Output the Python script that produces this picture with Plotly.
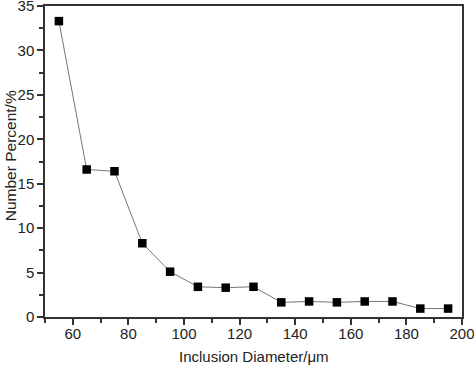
import plotly.graph_objects as go

diameters = [55, 65, 75, 85, 95, 105, 115, 125, 135, 145, 155, 165, 175, 185, 195]
percents = [33.3, 16.6, 16.4, 8.3, 5.1, 3.4, 3.3, 3.4, 1.65, 1.75, 1.65, 1.75, 1.75, 0.95, 0.95]

x_ticks = [60, 80, 100, 120, 140, 160, 180, 200]
y_ticks = [0, 5, 10, 15, 20, 25, 30, 35]
x_title = "Inclusion Diameter/μm"
y_title = "Number Percent/%"

FONT = "Liberation Sans, Arial"

fig = go.Figure()
fig.add_trace(go.Scatter(
    x=diameters, y=percents, mode="lines+markers",
    line=dict(color="#777777", width=1),
    marker=dict(symbol="square", size=8.5, color="black"),
    showlegend=False, cliponaxis=False,
))

axis_common = dict(
    showline=True, linecolor="#333333", linewidth=1.5, mirror=True,
    ticks="outside", ticklen=6, tickwidth=1.5, tickcolor="#333333",
    showgrid=False, zeroline=False, automargin=False,
    ticklabeloverflow="allow",
    tickfont=dict(family=FONT, size=15, color="#222222"),
)

fig.update_xaxes(range=[50, 200], tickvals=x_ticks, ticklabelstandoff=-4,
                 minor=dict(ticks="outside", ticklen=4, dtick=10, tick0=50, tickcolor="#333333"),
                 **axis_common)
fig.update_yaxes(range=[0, 35], tickvals=y_ticks,
                 minor=dict(ticks="outside", ticklen=4, dtick=2.5, tick0=0, tickcolor="#333333"),
                 **axis_common)

fig.add_annotation(text=x_title, xref="paper", yref="paper", x=0.5, y=-0.093,
                   xanchor="center", yanchor="top", showarrow=False,
                   font=dict(family=FONT, size=15, color="#222222"))
fig.add_annotation(text=y_title, xref="paper", yref="paper", x=-0.084, y=0.52,
                   xanchor="center", yanchor="middle", textangle=-90, showarrow=False,
                   font=dict(family=FONT, size=15.5, color="#222222"))

fig.update_layout(
    width=474, height=365,
    margin=dict(l=45, r=12, t=6, b=48),
    plot_bgcolor="white", paper_bgcolor="white",
)

fig.write_html("out.html", config={"displayModeBar": False},
               post_script="document.body.style.margin='0';")
